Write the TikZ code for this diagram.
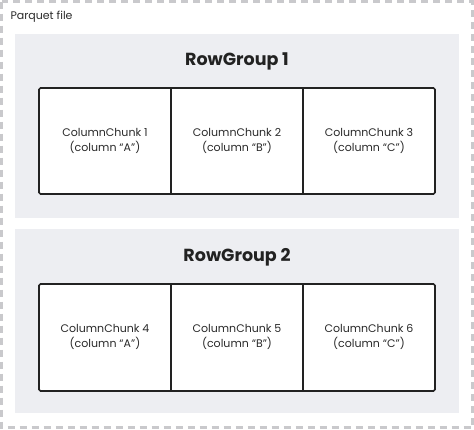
\documentclass[tikz,border=0pt]{standalone}
\usepackage{fontspec}
\setmainfont{Poppins}
\definecolor{panel}{HTML}{EDEEF2}
\definecolor{dashgrey}{HTML}{C9C9CC}
\definecolor{ink}{HTML}{222222}
\definecolor{txt}{HTML}{2A2A2A}
\begin{document}
\begin{tikzpicture}[x=1pt,y=-1pt,
  panelbox/.style={fill=panel,draw=none},
  chunk/.style={draw=ink,line width=1.6pt,fill=white,rounded corners=1.5pt},
  chunktext/.style={text=txt,font=\fontsize{11}{15}\selectfont,align=center},
  title/.style={text=ink,font=\fontsize{17.5}{20}\selectfont\bfseries},
  label/.style={text=txt,font=\fontsize{11}{14}\selectfont,anchor=west}]
\useasboundingbox (0,0) rectangle (474,429);
\draw[draw=dashgrey,line width=2.5pt,dash pattern=on 7pt off 5pt] (1.5,1.5) rectangle (472.5,427.5);
\node[label] (pf) at (7,17) {Parquet file};
% Row group 1
\fill[panelbox] (15,34) rectangle (459,218);
\node[title] (rg1) at (237,61) {RowGroup 1};
\draw[chunk] (39,88) rectangle (435,194);
\draw[ink,line width=1.6pt] (171,88) -- (171,194);
\draw[ink,line width=1.6pt] (303,88) -- (303,194);
\node[chunktext] (c1) at (105,141) {ColumnChunk 1\\(column “A”)};
\node[chunktext] (c2) at (237,141) {ColumnChunk 2\\(column “B”)};
\node[chunktext] (c3) at (369,141) {ColumnChunk 3\\(column “C”)};
% Row group 2
\fill[panelbox] (15,229) rectangle (459,413);
\node[title] (rg2) at (237,257) {RowGroup 2};
\draw[chunk] (39,284) rectangle (435,391);
\draw[ink,line width=1.6pt] (171,284) -- (171,391);
\draw[ink,line width=1.6pt] (303,284) -- (303,391);
\node[chunktext] (c4) at (105,337) {ColumnChunk 4\\(column “A”)};
\node[chunktext] (c5) at (237,337) {ColumnChunk 5\\(column “B”)};
\node[chunktext] (c6) at (369,337) {ColumnChunk 6\\(column “C”)};
\end{tikzpicture}
\end{document}
